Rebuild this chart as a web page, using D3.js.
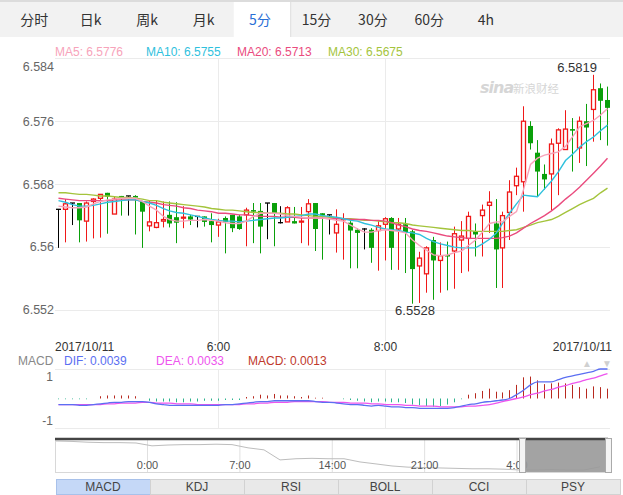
<!DOCTYPE html>
<html>
<head>
<meta charset="utf-8">
<script src="https://cdn.jsdelivr.net/npm/d3@7/dist/d3.min.js"></script>
<style>
  body { margin: 0; background: #fff; }
  svg { display: block; font-family: "Liberation Sans", Arial, sans-serif; }
</style>
</head>
<body>
<svg id="chart" width="623" height="495"></svg>
<script>
// ---- data: USD/CNY 5 minute bars, 2017/10/11
const times = [
  "4:05","4:10","4:15","4:20","4:25","4:30","4:35","4:40","4:45","4:50","4:55",
  "5:00","5:05","5:10","5:15","5:20","5:25","5:30","5:35","5:40","5:45","5:50","5:55",
  "6:00","6:05","6:10","6:15","6:20","6:25","6:30","6:35","6:40","6:45","6:50","6:55",
  "7:00","7:05","7:10","7:15","7:20","7:25","7:30","7:35","7:40","7:45","7:50","7:55",
  "8:00","8:05","8:10","8:15","8:20","8:25","8:30","8:35","8:40","8:45","8:50","8:55",
  "9:00","9:05","9:10","9:15","9:20","9:25","9:30","9:35","9:40","9:45","9:50","9:55",
  "10:00","10:05","10:10","10:15","10:20","10:25","10:30","10:35","10:40"
];
const open = [
  6.5648,6.5648,6.5656,6.5656,6.5633,6.5658,6.5662,6.5669,6.5642,6.5665,
  6.5665,6.5665,6.5658,6.5627,6.5625,6.5633,6.5641,6.5638,6.5637,6.5639,
  6.5639,6.5639,6.5633,6.5628,6.5637,6.5641,6.5639,6.5641,6.5647,6.5646,
  6.5656,6.5656,6.5631,6.5632,6.5633,6.5632,6.5645,6.5656,6.5643,6.5641,
  6.5618,6.5635,6.5631,6.5622,6.5623,6.5622,6.5621,6.5629,6.5637,6.5623,
  6.5629,6.5620,6.5576,6.5566,6.5609,6.5583,6.5590,6.5595,6.5609,6.5611,
  6.5620,6.5640,6.5653,6.5630,6.5599,6.5644,6.5678,6.5683,6.5754,6.5720,
  6.5693,6.5693,6.5732,6.5724,6.5750,6.5726,6.5760,6.5775,6.5802,6.5787
];
const high = [
  6.5648,6.5661,6.5656,6.5656,6.5658,6.5662,6.5667,6.5669,6.5664,6.5665,
  6.5665,6.5666,6.5658,6.5659,6.5659,6.5658,6.5658,6.5657,6.5652,6.5641,
  6.5639,6.5639,6.5643,6.5636,6.5639,6.5641,6.5641,6.5650,6.5656,6.5656,
  6.5656,6.5656,6.5652,6.5652,6.5651,6.5651,6.5661,6.5656,6.5643,6.5641,
  6.5648,6.5643,6.5633,6.5624,6.5624,6.5624,6.5633,6.5638,6.5638,6.5637,
  6.5637,6.5622,6.5594,6.5601,6.5613,6.5606,6.5607,6.5626,6.5633,6.5645,
  6.5630,6.5654,6.5671,6.5661,6.5645,6.5685,6.5701,6.5779,6.5760,6.5736,
  6.5705,6.5738,6.5751,6.5774,6.5764,6.5766,6.5782,6.5819,6.5808,6.5804
];
const low = [
  6.5599,6.5606,6.5628,6.5606,6.5607,6.5611,6.5612,6.5617,6.5642,6.5640,
  6.5640,6.5616,6.5599,6.5620,6.5624,6.5625,6.5625,6.5605,6.5624,6.5628,
  6.5625,6.5626,6.5606,6.5613,6.5592,6.5619,6.5622,6.5601,6.5605,6.5592,
  6.5610,6.5601,6.5630,6.5632,6.5630,6.5605,6.5602,6.5595,6.5584,6.5616,
  6.5593,6.5584,6.5573,6.5573,6.5597,6.5580,6.5570,6.5583,6.5571,6.5571,
  6.5567,6.5528,6.5529,6.5542,6.5533,6.5542,6.5545,6.5547,6.5567,6.5569,
  6.5588,6.5588,6.5618,6.5548,6.5548,6.5609,6.5666,6.5645,6.5724,6.5664,
  6.5673,6.5647,6.5666,6.5724,6.5696,6.5707,6.5703,6.5734,6.5736,6.5729
];
const close = [
  6.5648,6.5655,6.5656,6.5634,6.5656,6.5661,6.5667,6.5664,6.5661,6.5663,
  6.5665,6.5663,6.5645,6.5632,6.5631,6.5635,6.5630,6.5631,6.5638,6.5635,
  6.5639,6.5632,6.5628,6.5632,6.5632,6.5624,6.5623,6.5647,6.5645,6.5626,
  6.5656,6.5642,6.5631,6.5650,6.5630,6.5633,6.5655,6.5623,6.5640,6.5641,
  6.5629,6.5636,6.5621,6.5618,6.5623,6.5599,6.5627,6.5636,6.5599,6.5629,
  6.5618,6.5572,6.5586,6.5599,6.5583,6.5589,6.5588,6.5617,6.5614,6.5639,
  6.5616,6.5647,6.5657,6.5597,6.5640,6.5670,6.5690,6.5760,6.5732,6.5696,
  6.5686,6.5731,6.5749,6.5750,6.5748,6.5760,6.5752,6.5800,6.5786,6.5777
];
const ma5 = [
  6.5652,6.5651,6.5650,6.5650,6.5651,6.5655,6.5658,6.5660,6.5661,6.5662,
  6.5662,6.5662,6.5658,6.5652,6.5647,6.5639,6.5635,6.5633,6.5633,6.5634,
  6.5634,6.5635,6.5634,6.5633,6.5631,6.5630,6.5630,6.5633,6.5639,6.5643,
  6.5643,6.5643,6.5642,6.5640,6.5639,6.5638,6.5637,6.5637,6.5637,6.5636,
  6.5634,6.5633,6.5628,6.5623,6.5619,6.5619,6.5621,6.5622,6.5621,6.5620,
  6.5618,6.5609,6.5602,6.5596,6.5590,6.5589,6.5590,6.5593,6.5595,6.5602,
  6.5609,6.5619,6.5630,6.5632,6.5632,6.5639,6.5645,6.5673,6.5705,6.5713,
  6.5717,6.5719,6.5721,6.5728,6.5740,6.5753,6.5757,6.5761,6.5768,6.5776
];
const ma10 = [
  6.5659,6.5657,6.5654,6.5652,6.5652,6.5653,6.5655,6.5657,6.5658,6.5659,
  6.5660,6.5660,6.5658,6.5656,6.5653,6.5649,6.5646,6.5644,6.5643,6.5641,
  6.5639,6.5637,6.5635,6.5634,6.5633,6.5633,6.5632,6.5633,6.5634,6.5635,
  6.5636,6.5637,6.5637,6.5638,6.5639,6.5640,6.5642,6.5642,6.5640,6.5639,
  6.5638,6.5636,6.5634,6.5633,6.5630,6.5628,6.5625,6.5623,6.5622,6.5621,
  6.5619,6.5618,6.5616,6.5611,6.5607,6.5604,6.5602,6.5600,6.5599,6.5599,
  6.5599,6.5604,6.5610,6.5618,6.5630,6.5643,6.5655,6.5666,6.5665,6.5664,
  6.5674,6.5684,6.5696,6.5710,6.5718,6.5727,6.5734,6.5740,6.5748,6.5755
];
const ma20 = [
  6.5662,6.5661,6.5660,6.5659,6.5659,6.5659,6.5659,6.5659,6.5660,6.5660,
  6.5660,6.5660,6.5658,6.5657,6.5656,6.5654,6.5653,6.5652,6.5650,6.5649,
  6.5647,6.5646,6.5645,6.5643,6.5643,6.5642,6.5641,6.5641,6.5640,6.5639,
  6.5639,6.5639,6.5638,6.5638,6.5638,6.5637,6.5637,6.5637,6.5637,6.5636,
  6.5636,6.5636,6.5635,6.5635,6.5635,6.5634,6.5634,6.5633,6.5631,6.5628,
  6.5626,6.5623,6.5621,6.5620,6.5618,6.5616,6.5614,6.5613,6.5612,6.5611,
  6.5611,6.5611,6.5611,6.5611,6.5612,6.5614,6.5618,6.5624,6.5630,6.5635,
  6.5640,6.5646,6.5653,6.5661,6.5668,6.5676,6.5685,6.5694,6.5703,6.5713
];
const ma30 = [
  6.5669,6.5669,6.5668,6.5667,6.5667,6.5666,6.5665,6.5665,6.5664,6.5663,
  6.5663,6.5662,6.5661,6.5659,6.5659,6.5657,6.5656,6.5655,6.5654,6.5653,
  6.5652,6.5651,6.5649,6.5648,6.5647,6.5647,6.5646,6.5645,6.5644,6.5644,
  6.5643,6.5643,6.5643,6.5642,6.5642,6.5641,6.5640,6.5639,6.5639,6.5638,
  6.5637,6.5636,6.5636,6.5635,6.5634,6.5634,6.5633,6.5632,6.5631,6.5631,
  6.5630,6.5628,6.5627,6.5626,6.5625,6.5624,6.5623,6.5622,6.5621,6.5621,
  6.5620,6.5620,6.5620,6.5620,6.5620,6.5621,6.5622,6.5625,6.5628,6.5631,
  6.5633,6.5635,6.5639,6.5644,6.5649,6.5654,6.5658,6.5662,6.5669,6.5675
];
const dif = [
  -0.0008,-0.0008,-0.0008,-0.0009,-0.0009,-0.0008,-0.0007,-0.0006,-0.0005,-0.0005,
  -0.0004,-0.0004,-0.0004,-0.0005,-0.0007,-0.0008,-0.0009,-0.0009,-0.0009,-0.0009,
  -0.0009,-0.0009,-0.0009,-0.0009,-0.0008,-0.0008,-0.0007,-0.0006,-0.0005,-0.0004,
  -0.0004,-0.0003,-0.0003,-0.0003,-0.0003,-0.0003,-0.0003,-0.0004,-0.0005,-0.0005,
  -0.0006,-0.0007,-0.0008,-0.0008,-0.0009,-0.0010,-0.0009,-0.0010,-0.0011,-0.0011,
  -0.0012,-0.0012,-0.0013,-0.0013,-0.0013,-0.0013,-0.0013,-0.0012,-0.0010,-0.0008,
  -0.0007,-0.0005,-0.0004,-0.0003,-0.0002,0.0000,0.0005,0.0011,0.0018,0.0022,
  0.0022,0.0022,0.0025,0.0028,0.0030,0.0032,0.0034,0.0036,0.0039,0.0039
];
const dea = [
  -0.0008,-0.0008,-0.0008,-0.0008,-0.0008,-0.0008,-0.0008,-0.0007,-0.0007,-0.0006,
  -0.0006,-0.0006,-0.0005,-0.0005,-0.0006,-0.0006,-0.0006,-0.0007,-0.0007,-0.0007,
  -0.0008,-0.0008,-0.0008,-0.0008,-0.0008,-0.0008,-0.0008,-0.0007,-0.0007,-0.0006,
  -0.0006,-0.0005,-0.0005,-0.0005,-0.0004,-0.0004,-0.0004,-0.0004,-0.0004,-0.0005,
  -0.0005,-0.0005,-0.0006,-0.0006,-0.0006,-0.0007,-0.0007,-0.0008,-0.0008,-0.0008,
  -0.0009,-0.0009,-0.0010,-0.0010,-0.0010,-0.0011,-0.0011,-0.0011,-0.0011,-0.0010,
  -0.0010,-0.0009,-0.0008,-0.0006,-0.0004,-0.0002,0.0000,0.0002,0.0005,0.0007,
  0.0010,0.0012,0.0015,0.0017,0.0020,0.0022,0.0025,0.0027,0.0030,0.0033
];
const macdHist = [
  -0.0001,-0.0001,-0.0001,-0.0001,-0.0001,0,0.0003,0.0004,0.0004,0.0004,
  0.0004,0.0003,0,-0.0003,-0.0004,-0.0004,-0.0004,-0.0005,-0.0005,-0.0004,
  -0.0004,-0.0003,-0.0003,-0.0003,-0.0002,-0.0002,-0.0002,0.0002,0.0003,0.0005,
  0.0004,0.0006,0.0004,0.0004,0.0003,0.0002,0.0004,0.0001,0.0001,0,
  0,-0.0001,-0.0002,-0.0003,-0.0004,-0.0005,-0.0004,-0.0004,-0.0005,-0.0005,
  -0.0006,-0.0008,-0.0009,-0.0010,-0.0011,-0.0010,-0.0008,-0.0005,-0.0001,0.0005,
  0.0007,0.0010,0.0013,0.0009,0.0008,0.0011,0.0018,0.0028,0.0029,0.0024,
  0.0019,0.0020,0.0021,0.0020,0.0018,0.0015,0.0013,0.0016,0.0015,0.0013
];
// overview line in the range navigator (longer history)
const navValues = [
  6.6100,6.6092,6.6076,6.6068,6.6068,6.6061,6.6005,6.6021,6.6029,6.6029,
  6.6037,6.6029,6.5966,6.5926,6.5729,6.5752,6.5760,6.5752,6.5752,6.5689,
  6.5650,6.5610,6.5587,6.5579,6.5571,6.5563,6.5555,6.5555,6.5547,6.5531,
  6.5531,6.5539,6.5531,6.5531,6.5594
];
const navTicks = ["0:00","7:00","14:00","21:00","4:00"];

const priceTicks = [6.552, 6.56, 6.568, 6.576, 6.584];
const xTicks = ["4:05", "6:00", "8:00", "10:40"];
const xTickText = ["2017/10/11", "6:00", "8:00", "2017/10/11"];
const periodTabs = ["分时","日k","周k","月k","5分","15分","30分","60分","4h"];
const activePeriod = "5分";
const indicatorTabs = ["MACD","KDJ","RSI","BOLL","CCI","PSY"];
const activeIndicator = "MACD";

// ---- layout
const svg = d3.select("#chart");
const plotL = 55, plotR = 610;
const mainTop = 59, mainBot = 341;
const macdTop = 369, macdBot = 428;
const navTop = 438, navBot = 472;

const UP = "#f01818", DOWN = "#0aa00a", DOJI = "#000";
const C_MA5 = "#f7a3ba", C_MA10 = "#2fc1dd", C_MA20 = "#ea4b7e", C_MA30 = "#a4c43c";
const C_DIF = "#5b6ff2", C_DEA = "#ee55ee", C_MACD = "#c0392b";
const GRID = "#ebebeb";
const fmt4 = d3.format(".4f");
const last = a => a[a.length - 1];

const bars = times.map((t, i) => ({ t, o: open[i], h: high[i], l: low[i], c: close[i] }));

const x = d3.scaleBand().domain(times).range([plotL, plotR]).paddingInner(0.28).paddingOuter(0.14);
const cx = t => Math.round(x(t) + x.bandwidth() / 2);
const y = d3.scaleLinear().domain([6.552, 6.584]).range([310, 58.3]);
const ym = d3.scaleLinear().domain([-0.0039, 0.0039]).range([macdBot, macdTop]);

// ---- period tab bar
const tabX = d3.scaleBand().domain(periodTabs).range([6, 514]);
svg.append("rect").attr("x", 0).attr("y", 0).attr("width", 623).attr("height", 37).attr("fill", "#f2f2f2");
svg.append("rect").attr("x", 0).attr("y", 0).attr("width", 623).attr("height", 2).attr("fill", "#dcdcdc");
svg.append("rect")
    .attr("x", tabX(activePeriod) + 2).attr("y", 2)
    .attr("width", tabX.bandwidth()).attr("height", 35)
    .attr("fill", "#fff");
svg.append("line")
    .attr("x1", tabX(activePeriod) + tabX.bandwidth() + 2.5).attr("x2", tabX(activePeriod) + tabX.bandwidth() + 2.5)
    .attr("y1", 2).attr("y2", 37).attr("stroke", "#dedede");
svg.selectAll(".ptab").data(periodTabs).join("text")
    .attr("class", "ptab")
    .attr("x", d => tabX(d) + tabX.bandwidth() / 2).attr("y", 20)
    .attr("dy", "0.35em").attr("text-anchor", "middle")
    .attr("font-family", "'Noto Sans CJK SC', sans-serif").attr("font-size", 14)
    .attr("fill", d => d === activePeriod ? "#2a6fd6" : "#333")
    .text(d => d);

// ---- MA legend
const maLegend = [
    { name: "MA5", v: last(ma5), c: C_MA5, x: 55 },
    { name: "MA10", v: last(ma10), c: C_MA10, x: 146 },
    { name: "MA20", v: last(ma20), c: C_MA20, x: 237 },
    { name: "MA30", v: last(ma30), c: C_MA30, x: 328 }
];
svg.selectAll(".malg").data(maLegend).join("text")
    .attr("x", d => d.x).attr("y", 52).attr("dy", "0.35em")
    .attr("font-size", 12).attr("fill", d => d.c)
    .text(d => `${d.name}: ${fmt4(d.v)}`);

// ---- main grid
const g = svg.append("g");
g.selectAll(".hgrid").data(priceTicks).join("line")
    .attr("x1", plotL).attr("x2", plotR)
    .attr("y1", d => Math.round(y(d)) + 0.5).attr("y2", d => Math.round(y(d)) + 0.5)
    .attr("stroke", GRID);
const vTicks = xTicks.slice(1, 3);
g.selectAll(".vgrid").data(vTicks).join("line")
    .attr("x1", d => cx(d) + 0.5).attr("x2", d => cx(d) + 0.5)
    .attr("y1", mainTop).attr("y2", mainBot)
    .attr("stroke", GRID);
g.selectAll(".ylab").data(priceTicks).join("text")
    .attr("x", 54).attr("y", (d, i) => y(d) + (i === priceTicks.length - 1 ? 8 : 0))
    .attr("dy", "0.35em").attr("text-anchor", "end")
    .attr("font-size", 12.5).attr("fill", "#666")
    .text(d => d);

// watermark
const wm = g.append("g").attr("fill", "#d6d6d6");
wm.append("text").attr("x", 480).attr("y", 93)
    .attr("font-size", 16).attr("font-weight", "bold").attr("font-style", "italic")
    .attr("font-family", "'DejaVu Sans', sans-serif").attr("letter-spacing", -1).text("sina");
wm.append("text").attr("x", 513).attr("y", 93)
    .attr("font-size", 11.5).attr("font-family", "'Noto Sans CJK SC', sans-serif").text("新浪财经");

// ---- candles
const col = d => d.c > d.o ? UP : d.c < d.o ? DOWN : DOJI;
g.selectAll(".wick").data(bars).join("line")
    .attr("x1", d => cx(d.t) + 0.5).attr("x2", d => cx(d.t) + 0.5)
    .attr("y1", d => y(d.h)).attr("y2", d => y(d.l))
    .attr("stroke", col);
g.selectAll(".body-up").data(bars.filter(d => d.c > d.o)).join("rect")
    .attr("x", d => cx(d.t) - 1.5).attr("width", 4)
    .attr("y", d => y(d.c)).attr("height", d => Math.max(1, y(d.o) - y(d.c)))
    .attr("fill", "#fff").attr("stroke", UP).attr("stroke-width", 1.3);
g.selectAll(".body-dn").data(bars.filter(d => d.c < d.o)).join("rect")
    .attr("x", d => cx(d.t) - 2).attr("width", 5)
    .attr("y", d => y(d.o)).attr("height", d => Math.max(1.5, y(d.c) - y(d.o)))
    .attr("fill", DOWN);
g.selectAll(".body-doji").data(bars.filter(d => d.c === d.o)).join("line")
    .attr("x1", d => cx(d.t) - 2).attr("x2", d => cx(d.t) + 3)
    .attr("y1", d => y(d.o)).attr("y2", d => y(d.o))
    .attr("stroke", DOJI).attr("stroke-width", 1.3);

// ---- moving averages
const maLine = d3.line().x((d, i) => cx(times[i]) + 0.5).y(d => y(d));
[[ma30, C_MA30], [ma20, C_MA20], [ma10, C_MA10], [ma5, C_MA5]].forEach(([s, c]) => {
    g.append("path").datum(s).attr("d", maLine)
        .attr("fill", "none").attr("stroke", c).attr("stroke-width", 1.4);
});

// high / low marks
const hiBar = bars[d3.maxIndex(bars, d => d.h)];
const loBar = bars[d3.minIndex(bars, d => d.l)];
g.append("text").attr("x", cx(hiBar.t) + 4).attr("y", y(hiBar.h) - 3)
    .attr("text-anchor", "end").attr("font-size", 13).attr("fill", "#333")
    .text(fmt4(hiBar.h));
g.append("text").attr("x", cx(loBar.t) + 3).attr("y", y(loBar.l) + 11)
    .attr("text-anchor", "middle").attr("font-size", 13).attr("fill", "#333")
    .text(fmt4(loBar.l));

// x labels
g.selectAll(".xlab").data(xTicks).join("text")
    .attr("x", (d, i) => i === 0 ? plotL : i === xTicks.length - 1 ? plotR + 2 : cx(d) + 0.5)
    .attr("y", 347).attr("dy", "0.35em")
    .attr("text-anchor", (d, i) => i === 0 ? "start" : i === xTicks.length - 1 ? "end" : "middle")
    .attr("font-size", 12).attr("fill", "#333")
    .text((d, i) => xTickText[i]);

// ---- MACD panel
const mg = svg.append("g");
const macdLegend = [
    { t: "MACD", c: "#888", x: 18 },
    { t: `DIF: ${fmt4(last(dif))}`, c: C_DIF, x: 64 },
    { t: `DEA: ${fmt4(last(dea))}`, c: C_DEA, x: 156 },
    { t: `MACD: ${fmt4(last(macdHist))}`, c: C_MACD, x: 248 }
];
mg.selectAll(".mlg").data(macdLegend).join("text")
    .attr("x", d => d.x).attr("y", 361).attr("dy", "0.35em")
    .attr("font-size", 12).attr("fill", d => d.c).text(d => d.t);
mg.append("text").attr("x", 587).attr("y", 363).attr("dy", "0.35em").attr("text-anchor", "middle")
    .attr("font-size", 10).attr("fill", "#d0d0d0").text("▲");
mg.append("text").attr("x", 607).attr("y", 363).attr("dy", "0.35em").attr("text-anchor", "middle")
    .attr("font-size", 10).attr("fill", "#d0d0d0").text("▼");

mg.selectAll(".mh").data([macdTop, macdBot]).join("line")
    .attr("x1", plotL).attr("x2", plotR)
    .attr("y1", d => d + 0.5).attr("y2", d => d + 0.5).attr("stroke", GRID);
mg.selectAll(".mv").data(vTicks).join("line")
    .attr("x1", d => cx(d) + 0.5).attr("x2", d => cx(d) + 0.5)
    .attr("y1", macdTop).attr("y2", macdBot).attr("stroke", GRID);
mg.append("text").attr("x", 53).attr("y", macdTop + 8).attr("dy", "0.35em")
    .attr("text-anchor", "end").attr("font-size", 12).attr("fill", "#666").text("1");
mg.append("text").attr("x", 53).attr("y", macdBot - 7).attr("dy", "0.35em")
    .attr("text-anchor", "end").attr("font-size", 12).attr("fill", "#666").text("-1");

mg.selectAll(".hist").data(macdHist.map((v, i) => ({ v, t: times[i] })).filter(d => d.v !== 0)).join("line")
    .attr("x1", d => cx(d.t) + 0.5).attr("x2", d => cx(d.t) + 0.5)
    .attr("y1", ym(0)).attr("y2", d => ym(d.v))
    .attr("stroke", d => d.v > 0 ? "#b8291f" : "#2cb38e");
const mLine = d3.line().x((d, i) => cx(times[i]) + 0.5).y(d => ym(d)).curve(d3.curveMonotoneX);
mg.append("path").datum(dea).attr("d", mLine).attr("fill", "none").attr("stroke", C_DEA).attr("stroke-width", 1.3);
mg.append("path").datum(dif).attr("d", mLine).attr("fill", "none").attr("stroke", C_DIF).attr("stroke-width", 1.3);

// ---- range navigator
const ng = svg.append("g");
const nx = d3.scalePoint().domain(d3.range(navValues.length)).range([56, 600]);
const ny = d3.scaleLinear().domain(d3.extent(navValues)).range([navBot - 2, navTop + 3]);
const nt = d3.scalePoint().domain(navTicks).range([147.5, 517]);
ng.append("rect").attr("x", plotL + 0.5).attr("y", navTop + 0.5)
    .attr("width", 553).attr("height", navBot - navTop)
    .attr("fill", "#fff").attr("stroke", "#d8d8d8");
ng.selectAll(".nsep").data(navTicks).join("line")
    .attr("x1", d => nt(d)).attr("x2", d => nt(d))
    .attr("y1", navTop).attr("y2", navBot).attr("stroke", "#e0e0e0");
ng.append("path").datum(navValues)
    .attr("d", d3.line().x((d, i) => nx(i)).y(d => ny(d)))
    .attr("fill", "none").attr("stroke", "#bdbdbd").attr("stroke-width", 1);
ng.selectAll(".nlab").data(navTicks).join("text")
    .attr("x", d => nt(d)).attr("y", 465).attr("dy", "0.35em")
    .attr("text-anchor", "middle").attr("font-size", 11).attr("fill", "#555")
    .text(d => d);
ng.append("rect").attr("x", 522).attr("y", navTop + 1).attr("width", 86).attr("height", navBot - navTop - 1)
    .attr("fill", "#999").attr("fill-opacity", 0.9);
ng.append("line").attr("x1", plotL).attr("x2", 608).attr("y1", navTop + 1).attr("y2", navTop + 1)
    .attr("stroke", "#444").attr("stroke-width", 2.5);
ng.selectAll(".handle").data([519, 605]).join("rect")
    .attr("x", d => d + 0.5).attr("y", navTop + 0.5).attr("width", 6).attr("height", navBot - navTop)
    .attr("fill", "#f4f4f4").attr("stroke", "#aaa");

// ---- indicator tabs
const itX = d3.scaleBand().domain(indicatorTabs).range([56, 620]);
svg.selectAll(".itab").data(indicatorTabs).join("rect")
    .attr("x", d => itX(d) + 0.5).attr("y", 479.5)
    .attr("width", itX.bandwidth()).attr("height", 15)
    .attr("fill", d => d === activeIndicator ? "#c5d8f7" : "#e9e9e9")
    .attr("stroke", d => d === activeIndicator ? "#a8c1ea" : "#d2d2d2");
svg.selectAll(".itxt").data(indicatorTabs).join("text")
    .attr("x", d => itX(d) + itX.bandwidth() / 2).attr("y", 487).attr("dy", "0.35em")
    .attr("text-anchor", "middle").attr("font-size", 12).attr("fill", "#444")
    .text(d => d);
</script>
</body>
</html>
